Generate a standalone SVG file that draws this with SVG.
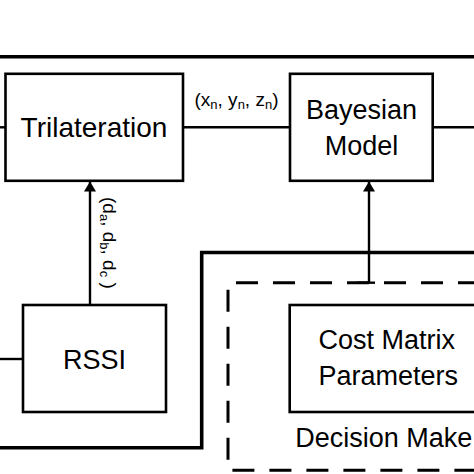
<svg xmlns="http://www.w3.org/2000/svg" width="474" height="474" viewBox="0 0 474 474">
<style>
.box{fill:#fff;stroke:#000;stroke-width:2.6}
.thin{fill:none;stroke:#000;stroke-width:2.4}
.thick{fill:none;stroke:#000;stroke-width:3.6}
.dash{fill:none;stroke:#000;stroke-width:3;stroke-dasharray:22 15}
.lbl{font-family:"Liberation Sans",Arial,sans-serif;font-size:27px;fill:#000}
.sm{font-family:"Liberation Sans",Arial,sans-serif;font-size:19px;fill:#000}
.sub{font-size:13px}
</style>
<defs>
<marker id="ah" viewBox="0 0 10 12" refX="10" refY="6" markerWidth="10" markerHeight="12" markerUnits="userSpaceOnUse" orient="auto">
<path d="M0,0 L10,6 L0,12 Z" fill="#000"/>
</marker>
</defs>
<rect width="474" height="474" fill="#fff"/>
<g id="frames">
<path class="thick" d="M0,56.7 H474"/>
<path class="thick" d="M0,447.7 H201.7 V252.5 H474"/>
<path class="dash" d="M480,282.7 H228 V470.3 H480"/>
</g>
<g id="connectors">
<path class="thin" d="M0,127.3 H6"/>
<path class="thin" d="M183,127.3 H290"/>
<path class="thin" d="M433,127.3 H474"/>
<path class="thin" d="M0,359 H23"/>
<path class="thin" d="M90,305 V181.5" marker-end="url(#ah)"/>
<path class="thin" d="M369,282.7 V181.5" marker-end="url(#ah)"/>
<path class="thin" d="M357,282.7 H375"/>
<text class="sm" x="236.5" y="106" text-anchor="middle">(x<tspan class="sub" dy="3">n</tspan><tspan dy="-3">, y</tspan><tspan class="sub" dy="3">n</tspan><tspan dy="-3">, z</tspan><tspan class="sub" dy="3">n</tspan><tspan dy="-3">)</tspan></text>
<text class="sm" transform="translate(102.5,197) rotate(90)">(d<tspan class="sub" dy="3">a</tspan><tspan dy="-3">, d</tspan><tspan class="sub" dy="3">b</tspan><tspan dy="-3">, d</tspan><tspan class="sub" dy="3">c</tspan><tspan dy="-3"> )</tspan></text>
</g>
<g id="trilateration">
<rect class="box" x="5.5" y="73.8" width="177.5" height="107"/>
<text class="lbl" x="94" y="137" text-anchor="middle" style="font-size:28px">Trilateration</text>
</g>
<g id="bayesian">
<rect class="box" x="290" y="73.8" width="142.7" height="107"/>
<text class="lbl" x="361.5" y="119" text-anchor="middle">Bayesian</text>
<text class="lbl" x="361.5" y="155" text-anchor="middle">Model</text>
</g>
<g id="rssi">
<rect class="box" x="23" y="305" width="143" height="107"/>
<text class="lbl" x="94.5" y="368.7" text-anchor="middle">RSSI</text>
</g>
<g id="cost">
<rect class="box" x="289.7" y="305" width="200" height="107"/>
<text class="lbl" x="318.5" y="349.3">Cost Matrix</text>
<text class="lbl" x="318.5" y="385">Parameters</text>
</g>
<g id="decision">
<text class="lbl" x="295.3" y="447">Decision Make</text>
</g>
</svg>
